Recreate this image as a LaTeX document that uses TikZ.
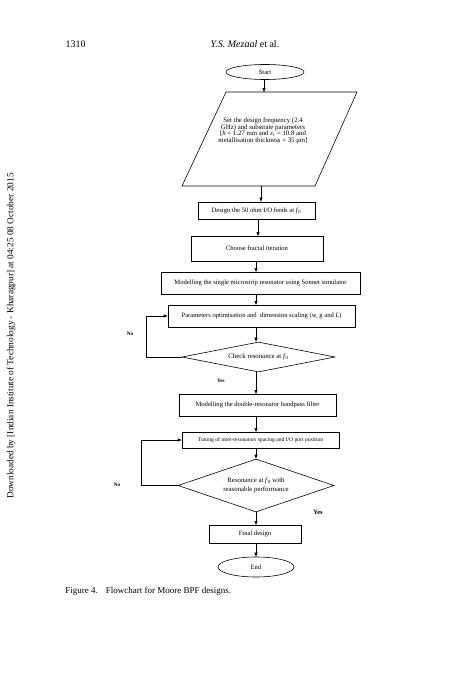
\documentclass[tikz,border=0pt]{standalone}
\usepackage{fontspec}
\setmainfont{Liberation Serif}
\usetikzlibrary{shapes.geometric,arrows.meta}
\newcommand{\fz}{\textit{f}\textsubscript{0}}
\begin{document}
\begin{tikzpicture}[x=1pt,y=-1pt,
  line width=0.6pt,
  box/.style={draw,rectangle,inner sep=0pt,align=center,font=\fontsize{6.6}{8}\selectfont},
  oval/.style={draw,ellipse,inner sep=0pt,font=\fontsize{6.6}{8}\selectfont},
  dia/.style={draw,diamond,inner sep=0pt,align=center,font=\fontsize{6.8}{9}\selectfont},
  arr/.style={-{Triangle[length=4pt,width=3pt]}},
  lbl/.style={font=\bfseries\fontsize{5.2}{6}\selectfont},
  plain/.style={inner sep=0pt}]
\useasboundingbox (0,0) rectangle (474,675);
% header
\node[plain,font=\fontsize{10}{12}\selectfont] (pg) at (75.5,44) {1310};
\node[plain,font=\fontsize{10}{12}\selectfont] (auth) at (245,44) {\textit{Y.S. Mezaal} et al.};
% side text
\node[plain,rotate=90,font=\fontsize{9.3}{10}\selectfont] (side) at (11,336) {Downloaded by [Indian Institute of Technology - Kharagpur] at 04:25 08 October 2015};
% flowchart
\node[oval,minimum width=78,minimum height=15] (start) at (265,72) {Start};
\draw (226,92) -- (357,92) -- (315,186) -- (182,186) -- cycle;
\node[plain,align=center,font=\fontsize{6.8}{6.6}\selectfont] (par) at (263,131)
 {Set the design frequency (2.4\\GHz) and substrate parameters\\{[}\textit{h} = 1.27 mm and \textit{ε}\textsubscript{\textit{r}} = 10.8 and\\metallisation thickness = 35 μm{]}};
\coordinate (partop) at (264,92);
\coordinate (parbot) at (261,186);
\node[box,minimum width=117,minimum height=17] (design) at (256.5,210.5) {Design the 50 ohm I/O feeds at \fz};
\node[box,minimum width=132,minimum height=25] (choose) at (257,248.5) {Choose fractal iteration};
\node[box,minimum width=199,minimum height=22] (model) at (260.5,283) {Modelling the single microstrip resonator using Sonnet simulator};
\node[box,minimum width=187,minimum height=22] (params) at (261.5,316) {Parameters optimisation and\ \ dimension scaling (w, g and \textit{L})};
\node[dia,aspect=5,minimum width=153,minimum height=30] (check) at (258.5,357) {Check resonance at \fz};
\node[box,minimum width=157,minimum height=22] (double) at (257.5,405) {Modelling the double-resonator bandpass filter};
\node[box,minimum width=157,minimum height=16,font=\fontsize{5.6}{7}\selectfont] (tuning) at (260.5,440) {Tuning of inter-resonators spacing and I/O port position};
\node[dia,aspect=3,minimum width=156,minimum height=53] (res) at (256,485.5) {Resonance at \fz{} with\\reasonable performance};
\node[box,minimum width=92,minimum height=18] (final) at (255,534) {Final design};
\node[oval,minimum width=76,minimum height=20] (end) at (256,567) {End};
% labels
\node[lbl] (no1) at (130,334) {No};
\node[lbl] (yes1) at (221,381) {Yes};
\node[lbl] (no2) at (117,485) {No};
\node[lbl,font=\bfseries\fontsize{6.5}{8}\selectfont] (yes2) at (318,512) {Yes};
% connectors
\draw[arr] (start.south -| partop) -- (partop);
\draw[arr] (parbot) -- (parbot |- design.north);
\draw[arr] (258,219) -- (258,236);
\draw[arr] (256,261) -- (256,272);
\draw[arr] (256,294) -- (256,305);
\draw[arr] (256,327) -- (check.north -| 256,0);
\draw[arr] (check.south -| 256,0) -- (256,394);
\draw[arr] (256,416) -- (256,432);
\draw[arr] (256,448) -- (res.north -| 256,0);
\draw[arr] (res.south -| 256,0) -- (256,525);
\draw[arr] (256,543) -- (end.north -| 256,0);
\draw[arr] (check.west) -- ++(-35,0) |- (params.west);
\draw[arr] (res.west) -- ++(-36,0) |- (tuning.west);
% caption
\node[plain,anchor=west,font=\fontsize{9}{11}\selectfont] (cap) at (65,591) {Figure 4.\hspace{0.9em}Flowchart for Moore BPF designs.};
\end{tikzpicture}
\end{document}
